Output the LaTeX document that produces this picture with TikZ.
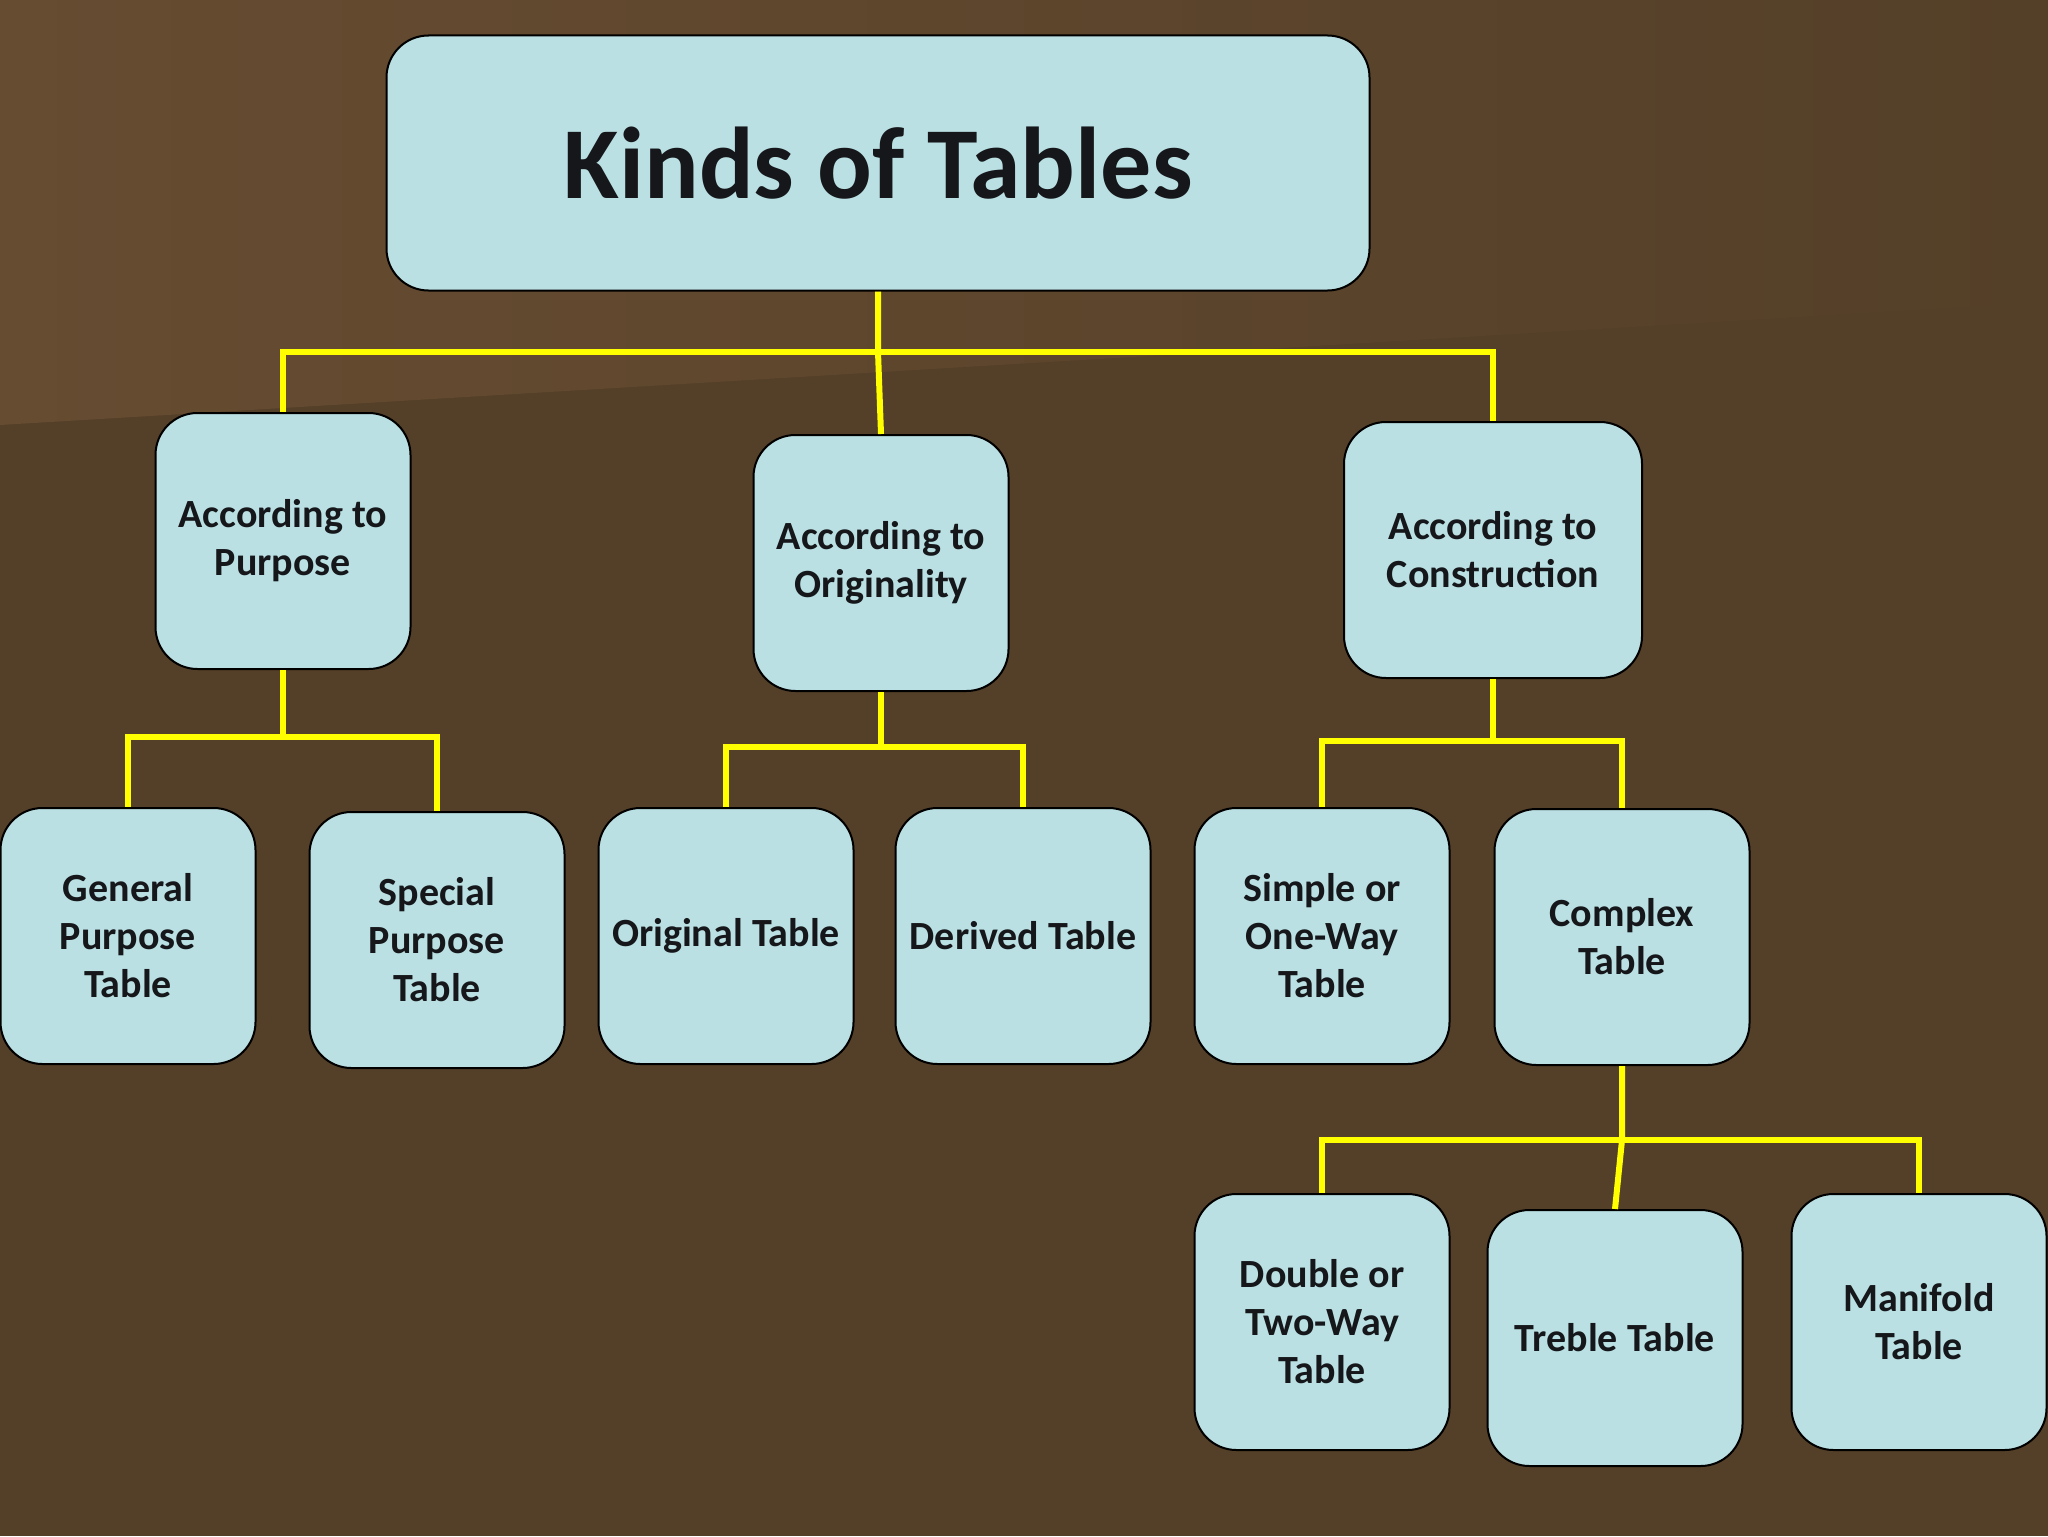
\documentclass[tikz,border=0pt]{standalone}
\usepackage{fontspec}
\setmainfont{Carlito}
\definecolor{boxfill}{HTML}{BAE0E3}
\definecolor{textc}{HTML}{15171A}
\definecolor{linky}{HTML}{FFFF00}
\definecolor{bglight}{HTML}{664C31}
\definecolor{bgmid}{HTML}{5D462D}
\definecolor{bgdark}{HTML}{543F28}
\begin{document}
\begin{tikzpicture}[x=0.5pt,y=-0.5pt,
  box/.style={draw=black, line width=1pt, fill=boxfill, rounded corners=21pt,
    minimum width=127.5pt, minimum height=128pt, inner sep=0pt, align=center,
    font=\fontsize{20}{24}\selectfont\bfseries, text=textc},
  link/.style={draw=linky, line width=3pt}]
\useasboundingbox (0,0) rectangle (2048,1536);
\fill[bgdark] (0,0) rectangle (2048,1536);
\shade[left color=bglight, middle color=bgmid, right color=bgdark] (0,0) -- (2048,0) -- (2048,302) -- (0,425) -- cycle;

\node[box, minimum width=491.5pt, minimum height=127.5pt, font=\fontsize{51}{60}\selectfont\bfseries] (title) at (878,163) {Kinds of Tables};

\node[box] (purpose) at (283,541) {According to\\Purpose};
\node[box] (orig) at (881,563) {According to\\Originality};
\node[box, minimum width=149pt] (constr) at (1493,550) {According to\\Construction};

\node[box] (general) at (128,936) {General\\Purpose\\Table};
\node[box] (special) at (437,940) {Special\\Purpose\\Table};
\node[box] (original) at (726,936) {Original Table};
\node[box] (derived) at (1023,936) {Derived Table};
\node[box] (simple) at (1322,936) {Simple or\\One-Way\\Table};
\node[box] (complex) at (1622,937) {Complex\\Table};

\node[box] (double) at (1322,1322) {Double or\\Two-Way\\Table};
\node[box] (treble) at (1615,1338) {Treble Table};
\node[box] (manifold) at (1919,1322) {Manifold\\Table};

\coordinate (j1) at (878,352);
\coordinate (j2) at (283,737);
\coordinate (j3) at (881,747);
\coordinate (j4) at (1493,741);
\coordinate (j5) at (1622,1140);

\draw[link] (title.south) -- (j1) -- (orig.north);
\draw[link] (j1) -| (purpose.north);
\draw[link] (j1) -| (constr.north);
\draw[link] (purpose.south) -- (j2);
\draw[link] (j2) -| (general.north);
\draw[link] (j2) -| (special.north);
\draw[link] (orig.south) -- (j3);
\draw[link] (j3) -| (original.north);
\draw[link] (j3) -| (derived.north);
\draw[link] (constr.south) -- (j4);
\draw[link] (j4) -| (simple.north);
\draw[link] (j4) -| (complex.north);
\draw[link] (complex.south) -- (j5) -- (treble.north);
\draw[link] (j5) -| (double.north);
\draw[link] (j5) -| (manifold.north);
\end{tikzpicture}
\end{document}
